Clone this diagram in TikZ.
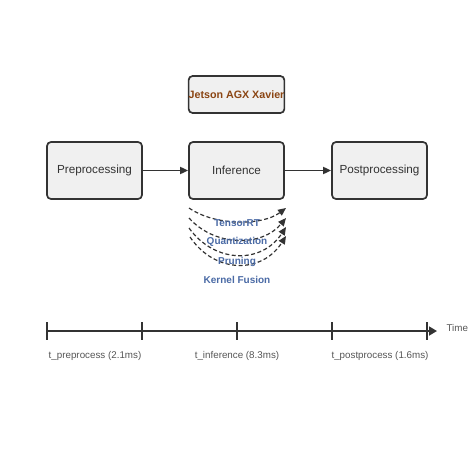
\documentclass[tikz,border=0pt]{standalone}
\usepackage{fontspec}
\setmainfont{Liberation Sans}
\usetikzlibrary{arrows.meta}
\definecolor{boxfill}{HTML}{F0F0F0}
\definecolor{boxline}{HTML}{333333}
\definecolor{jetcol}{HTML}{8B4513}
\definecolor{techcol}{HTML}{4A6AA5}
\definecolor{timecol}{HTML}{555555}
\begin{document}
\begin{tikzpicture}[x=1pt,y=-1pt,
  box/.style={draw=boxline,fill=boxfill,line width=1.7pt,rounded corners=4pt,
    minimum width=95pt,minimum height=57pt,inner sep=0pt,font=\fontsize{11.7}{13}\selectfont,text=boxline},
  jbox/.style={draw=boxline,fill=boxfill,line width=1.7pt,rounded corners=4pt,
    minimum width=95pt,minimum height=37pt,inner sep=0pt,font=\fontsize{10.7}{12}\selectfont\bfseries,text=jetcol},
  flow/.style={draw=boxline,line width=1.7pt,-{Triangle[length=8pt,width=7pt]}},
  dcurve/.style={draw=boxline,line width=1.2pt,dash pattern=on 4pt off 2.5pt,-{Triangle[length=8pt,width=7pt]}},
  tech/.style={font=\fontsize{10}{11}\selectfont\bfseries,text=techcol},
  tline/.style={draw=boxline,line width=1.7pt},
  tlabel/.style={font=\fontsize{9.8}{11}\selectfont,text=timecol},
]
\useasboundingbox (0,0) rectangle (474,474);
\node[jbox] (jet) at (236.5,94.5) {Jetson AGX Xavier};
\node[box] (pre) at (94.5,170.5) {Preprocessing};
\node[box] (inf) at (236.5,170.5) {Inference};
\node[box] (post) at (379.5,170.5) {Postprocessing};
\draw[flow] (pre) -- (inf);
\draw[flow] (inf) -- (post);
% optimization curves
\coordinate (c1s) at (189,208); \coordinate (c1e) at (286,208);
\coordinate (c2s) at (189,218); \coordinate (c2e) at (286,218);
\coordinate (c3s) at (189,228); \coordinate (c3e) at (286,227);
\coordinate (c4s) at (190,237); \coordinate (c4e) at (286,236);
\draw[dcurve] (c1s) .. controls (215,226) and (262,226) .. (c1e);
\draw[dcurve] (c2s) .. controls (215,247) and (262,247) .. (c2e);
\draw[dcurve] (c3s) .. controls (215,264) and (262,264) .. (c3e);
\draw[dcurve] (c4s) .. controls (215,274) and (262,274) .. (c4e);
\node[tech] (trt) at (237,223) {TensorRT};
\node[tech] (quant) at (237,242) {Quantization};
\node[tech] (prun) at (237,262) {Pruning};
\node[tech] (kf) at (237,280) {Kernel Fusion};
% timeline
\coordinate (t0) at (47,331);
\coordinate (tend) at (437,331);
\draw[tline,-{Triangle[length=8pt,width=9pt]}] (t0) -- (tend);
\foreach \x/\n in {47/a,142/b,237/c,332/d,427/e}{
  \coordinate (\n top) at (\x,322);
  \coordinate (\n bot) at (\x,340);
  \draw[tline] (\n top) -- (\n bot);
}
\node[tlabel,anchor=west] (time) at (443,328) {Time};
\node[tlabel] (l1) at (95,356) {t\_preprocess (2.1ms)};
\node[tlabel] (l2) at (237,356) {t\_inference (8.3ms)};
\node[tlabel] (l3) at (380,356) {t\_postprocess (1.6ms)};
\end{tikzpicture}
\end{document}
